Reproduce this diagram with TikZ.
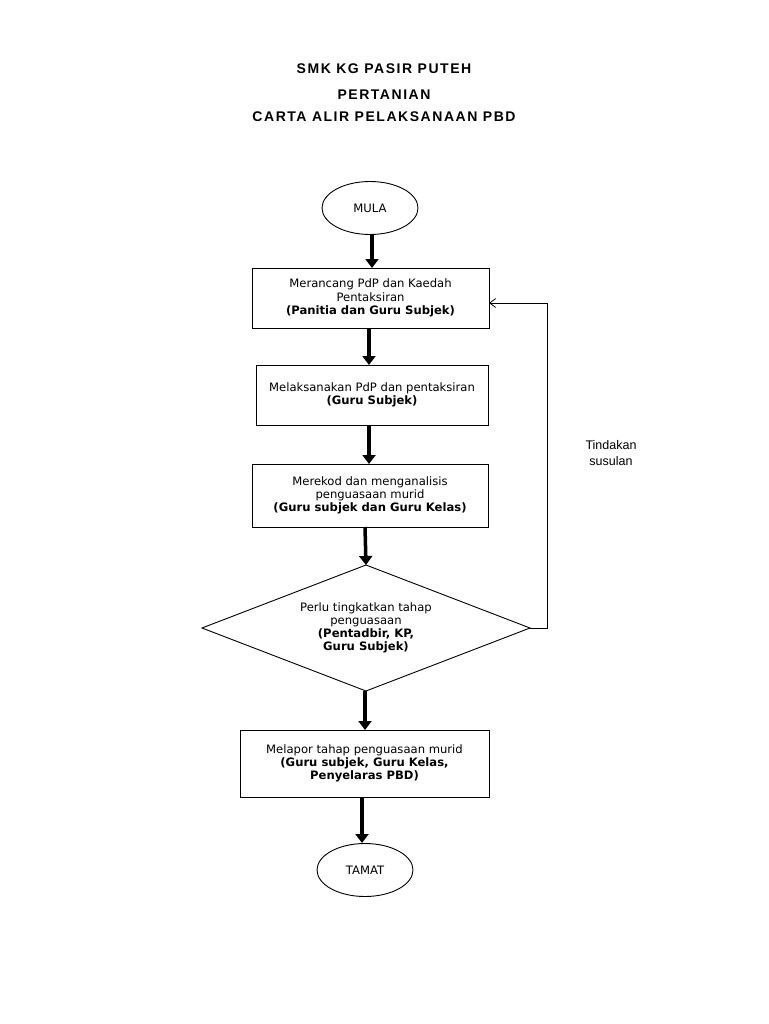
\documentclass[tikz,border=0pt]{standalone}
\usepackage{fontspec}
\setmainfont{DejaVu Sans}
\newfontfamily\titlefont[LetterSpace=11]{Liberation Sans}
\newfontfamily\lblfont{Liberation Sans}
\usetikzlibrary{shapes.geometric,arrows.meta}
\begin{document}
\begin{tikzpicture}[x=1pt,y=-1pt,
  every node/.style={font=\fontsize{11.6}{13.2}\selectfont, align=center, inner sep=0pt},
  term/.style={draw, line width=0.9pt, ellipse, minimum width=96pt, minimum height=53pt},
  proc/.style={draw, line width=0.9pt, rectangle},
  flow/.style={line width=3.5pt, -{Triangle[length=9pt,width=13pt]}},
  back/.style={line width=0.8pt, -{Straight Barb[length=6pt,width=9pt]}},
  ttl/.style={font=\titlefont\bfseries\fontsize{14}{16}\selectfont}]
\useasboundingbox (0,0) rectangle (768,1024);
\node[ttl] (t1) at (384,69) {SMK KG PASIR PUTEH};
\node[ttl] (t2) at (384,95) {PERTANIAN};
\node[ttl] (t3) at (384,117) {CARTA ALIR PELAKSANAAN PBD};

\node[term] (mula) at (370,208) {MULA};
\node[proc, minimum width=237pt, minimum height=60pt] (b1) at (370.5,298) {Merancang PdP dan Kaedah\\Pentaksiran\\\textbf{(Panitia dan Guru Subjek)}};
\node[proc, minimum width=232pt, minimum height=60pt] (b2) at (372,395) {Melaksanakan PdP dan pentaksiran\\\textbf{(Guru Subjek)}};
\node[proc, minimum width=236pt, minimum height=63pt] (b3) at (370,495.5) {Merekod dan menganalisis\\penguasaan murid\\\textbf{(Guru subjek dan Guru Kelas)}};
\draw[line width=0.9pt] (366,565) -- (530,628) -- (366,691) -- (202,628) -- cycle;
\node (d) at (366,628) {Perlu tingkatkan tahap\\penguasaan\\\textbf{(Pentadbir, KP,}\\\textbf{Guru Subjek)}};
\coordinate (dt) at (366,565);
\coordinate (db) at (366,691);
\coordinate (dr) at (530,628);
\node[proc, minimum width=249pt, minimum height=67pt] (b4) at (364.5,763.5) {Melapor tahap penguasaan murid\\\textbf{(Guru subjek, Guru Kelas,}\\\textbf{Penyelaras PBD)}};
\node[term] (tamat) at (365,870) {TAMAT};

\draw[flow] (372,234) -- (372,268);
\draw[flow] (369,328) -- (369,365);
\draw[flow] (369,425) -- (369,464);
\draw[flow] (365,527) -- (dt);
\draw[flow] (365,691) -- (365,730);
\draw[flow] (362,797) -- (362,843);

\coordinate (c1) at (547,628);
\coordinate (c2) at (547,303);
\draw[back] (dr) -- (c1) -- (c2) -- (489,303);
\node[font=\lblfont\fontsize{12.5}{16}\selectfont] (lbl) at (611,453) {Tindakan\\susulan};
\end{tikzpicture}
\end{document}
